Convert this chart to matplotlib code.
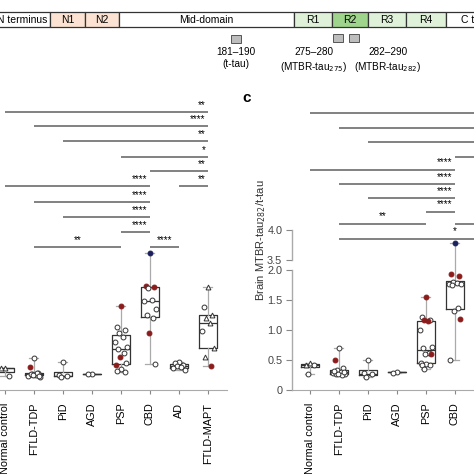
import matplotlib.pyplot as plt
from matplotlib.patches import Rectangle

plt.rcParams['font.family'] = ['Liberation Sans', 'DejaVu Sans']

# tau domain schematic (pixel-like units along the bar)
domain_names = ['N terminus', 'N1', 'N2', 'Mid-domain', 'R1', 'R2', 'R3', 'R4', 'C terminus']
domain_edges = [-20, 50, 85, 119, 294, 332, 368, 406, 446, 520]
domain_colors = ['white', '#fbe2d2', '#fbe2d2', 'white', '#e0f1d9', '#9fd48c', '#e0f1d9', '#e0f1d9', 'white']
peptide_pos = [236, 338, 354]
peptide_labels = ['181–190\n(t-tau)', '275–280\n(MTBR-tau$_{275}$)', '282–290\n(MTBR-tau$_{282}$)']
peptide_label_x = [236, 314, 388]

groups = ['Normal control', 'FTLD-TDP', 'PiD', 'AGD', 'PSP', 'CBD', 'AD', 'FTLD-MAPT']

# left panel (values in arbitrary ratio units; axis cropped)
left_vals = [
    [0.37, 0.36, 0.23],
    [0.53, 0.38, 0.28, 0.26, 0.25, 0.24, 0.22, 0.26, 0.28, 0.25, 0.23],
    [0.47, 0.25, 0.23, 0.22],
    [0.27, 0.27],
    [1.40, 1.05, 1.00, 0.95, 0.88, 0.80, 0.72, 0.68, 0.62, 0.55, 0.45, 0.42, 0.35, 0.32, 0.30],
    [2.28, 1.73, 1.72, 1.70, 1.50, 1.48, 1.35, 1.25, 1.20, 0.95, 0.43],
    [0.47, 0.45, 0.42, 0.40, 0.38, 0.36, 0.33],
    [1.72, 1.38, 1.25, 1.20, 1.12, 0.98, 0.70, 0.55, 0.40],
]
left_red = [[], [1], [], [], [0, 9, 11], [1, 2, 9], [], [8]]
left_blue = [[], [], [], [], [], [0], [], []]
left_tri = [[0, 1], [], [], [], [], [], [], [0, 2, 3, 4, 6, 7]]

left_brackets = [  # (start, end, y, stars, centered)
    (0, 7, 4.63, '**', False), (1, 7, 4.40, '****', False), (2, 7, 4.15, '**', False),
    (4, 7, 3.88, '*', False), (5, 7, 3.65, '**', False), (6, 7, 3.40, '**', False),
    (0, 5, 3.40, '****', False), (1, 5, 3.13, '****', False), (2, 5, 2.88, '****', False),
    (4, 5, 2.63, '****', False), (1, 4, 2.38, '**', True), (5, 6, 2.38, '****', True),
]

# right panel: Brain MTBR-tau282/t-tau (real values)
right_vals = [
    [0.45, 0.42, 0.42, 0.27],
    [0.70, 0.50, 0.36, 0.33, 0.30, 0.28, 0.27, 0.26, 0.25, 0.27, 0.30, 0.32],
    [0.50, 0.28, 0.27, 0.21],
    [0.30, 0.29],
    [1.55, 1.22, 1.17, 1.16, 1.15, 1.00, 0.72, 0.70, 0.62, 0.60, 0.60, 0.45, 0.43, 0.42, 0.42, 0.35],
    [3.78, 1.93, 1.90, 1.80, 1.78, 1.77, 1.76, 1.75, 1.37, 1.32, 1.19, 0.50],
]
right_red = [[], [1], [], [], [0, 3, 4, 10], [1, 2, 10]]
right_blue = [[], [], [], [], [], [0]]
right_tri = [[0, 1], [], [], [], [], []]

right_brackets = [
    (0, 9, 4.62, '', False), (1, 9, 4.37, '', False), (2, 9, 4.13, '', False),
    (5, 9, 3.88, '', False), (0, 5, 3.67, '****', False), (1, 5, 3.43, '****', False),
    (2, 5, 3.20, '****', False), (4, 5, 2.97, '****', False), (1, 4, 2.77, '**', True),
    (5, 9, 2.77, '**', False), (1, 9, 2.52, '*', True),
]

RED = '#8a1c1c'
BLUE = '#1b1f5c'
offsets = [0.0, -0.14, 0.14, -0.07, 0.07, -0.2, 0.2, -0.1, 0.1, -0.03, 0.17, -0.17]


def brk(y):
    return y if y <= 2.0 else y - 1.33


def draw_groups(ax, vals, reds, blues, tris, tf):
    for i, v in enumerate(vals):
        tv = [tf(a) for a in v]
        ax.boxplot([tv], positions=[i], widths=0.62, whis=(0, 100), showfliers=False,
                   boxprops=dict(color='#333333', lw=0.9), medianprops=dict(color='#333333', lw=0.9),
                   whiskerprops=dict(color='#aaaaaa', lw=0.9), capprops=dict(color='#aaaaaa', lw=0.9))
        for j, y in enumerate(tv):
            x = i + offsets[j % len(offsets)]
            m = '^' if j in tris[i] else 'o'
            fc = RED if j in reds[i] else (BLUE if j in blues[i] else 'white')
            ec = fc if fc != 'white' else '#333333'
            ax.plot(x, y, marker=m, ms=3.5, mfc=fc, mec=ec, mew=0.7, zorder=4)


def draw_brackets(ax, brs):
    for s, e, y, st, cen in brs:
        ax.plot([s, e], [y, y], color='#777777', lw=1.3, clip_on=False, solid_capstyle='butt')
        if st:
            if cen:
                ax.text((s + e) / 2, y + 0.04, st, ha='center', va='bottom', fontsize=7, clip_on=False)
            else:
                ax.text(e - 0.08, y + 0.04, st, ha='right', va='bottom', fontsize=7, clip_on=False)


fig = plt.figure(figsize=(4.74, 4.74), dpi=100)


def px(x0, y0, x1, y1):
    return [x0 / 474, 1 - y1 / 474, (x1 - x0) / 474, (y1 - y0) / 474]


# schematic
axd = fig.add_axes([0, 0, 1, 1])
axd.set_xlim(0, 474)
axd.set_ylim(474, 0)
axd.axis('off')
for k, name in enumerate(domain_names):
    x0, x1 = domain_edges[k], domain_edges[k + 1]
    axd.add_patch(Rectangle((x0, 12), x1 - x0, 15, fc=domain_colors[k], ec='#333333', lw=0.9))
    if k == 0:
        axd.text(x1 - 3, 19.5, name, ha='right', va='center', fontsize=7.5)
    elif k == len(domain_names) - 1:
        axd.text(x0 + 15, 19.5, name, ha='left', va='center', fontsize=7.5)
    else:
        axd.text((x0 + x1) / 2, 19.5, name, ha='center', va='center', fontsize=7.5)
for k, p in enumerate(peptide_pos):
    yy = 35 if k == 0 else 34
    axd.add_patch(Rectangle((p - 5, yy), 10, 8, fc='#bdbdbd', ec='#555555', lw=0.7))
for lab, lx in zip(peptide_labels, peptide_label_x):
    axd.text(lx, 47, lab, ha='center', va='top', fontsize=7.2, linespacing=1.3)
axd.text(247, 98, 'c', fontsize=11, fontweight='bold', ha='center', va='center')

# left panel
axl = fig.add_axes(px(0, 90, 227, 390))
draw_groups(axl, left_vals, left_red, left_blue, left_tri, lambda y: y)
draw_brackets(axl, left_brackets)
axl.set_xlim(-0.17, 7.66)
axl.set_ylim(0, 5)
axl.set_yticks([])
for s in ['left', 'top', 'right']:
    axl.spines[s].set_visible(False)
axl.spines['bottom'].set_color('#aaaaaa')
axl.set_xticks(range(len(groups)))
axl.set_xticklabels(groups, rotation=90, fontsize=7.8)
axl.tick_params(axis='x', length=3, color='#888888', pad=6)

# right panel
axr = fig.add_axes(px(292, 90, 474, 390))
draw_groups(axr, right_vals, right_red, right_blue, right_tri, brk)
draw_brackets(axr, right_brackets)
axr.set_xlim(-0.62, 5.66)
axr.set_ylim(0, 5)
for s in ['left', 'top', 'right']:
    axr.spines[s].set_visible(False)
axr.spines['bottom'].set_color('#aaaaaa')
tick_real = [0, 0.5, 1.0, 1.5, 2.0, 3.5, 4.0]
axr.set_yticks([brk(t) for t in tick_real])
axr.set_yticklabels(['0', '0.5', '1.0', '1.5', '2.0', '3.5', '4.0'], fontsize=7.8, color='#444444')
axr.tick_params(axis='y', length=4, color='#888888', pad=3)
axr.plot([-0.62, -0.62], [0, 2.0], color='#aaaaaa', lw=1, clip_on=False)
axr.plot([-0.62, -0.62], [brk(3.5), brk(4.0)], color='#aaaaaa', lw=1, clip_on=False)
axr.set_xticks(range(len(right_vals)))
axr.set_xticklabels(groups[:len(right_vals)], rotation=90, fontsize=7.8)
axr.tick_params(axis='x', length=3, color='#888888', pad=6)
axr.set_ylabel('Brain MTBR-tau$_{282}$/t-tau', fontsize=8, color='#333333', labelpad=2)
axr.yaxis.set_label_coords(-0.13, 0.5)

fig.savefig('out.png', dpi=100)
